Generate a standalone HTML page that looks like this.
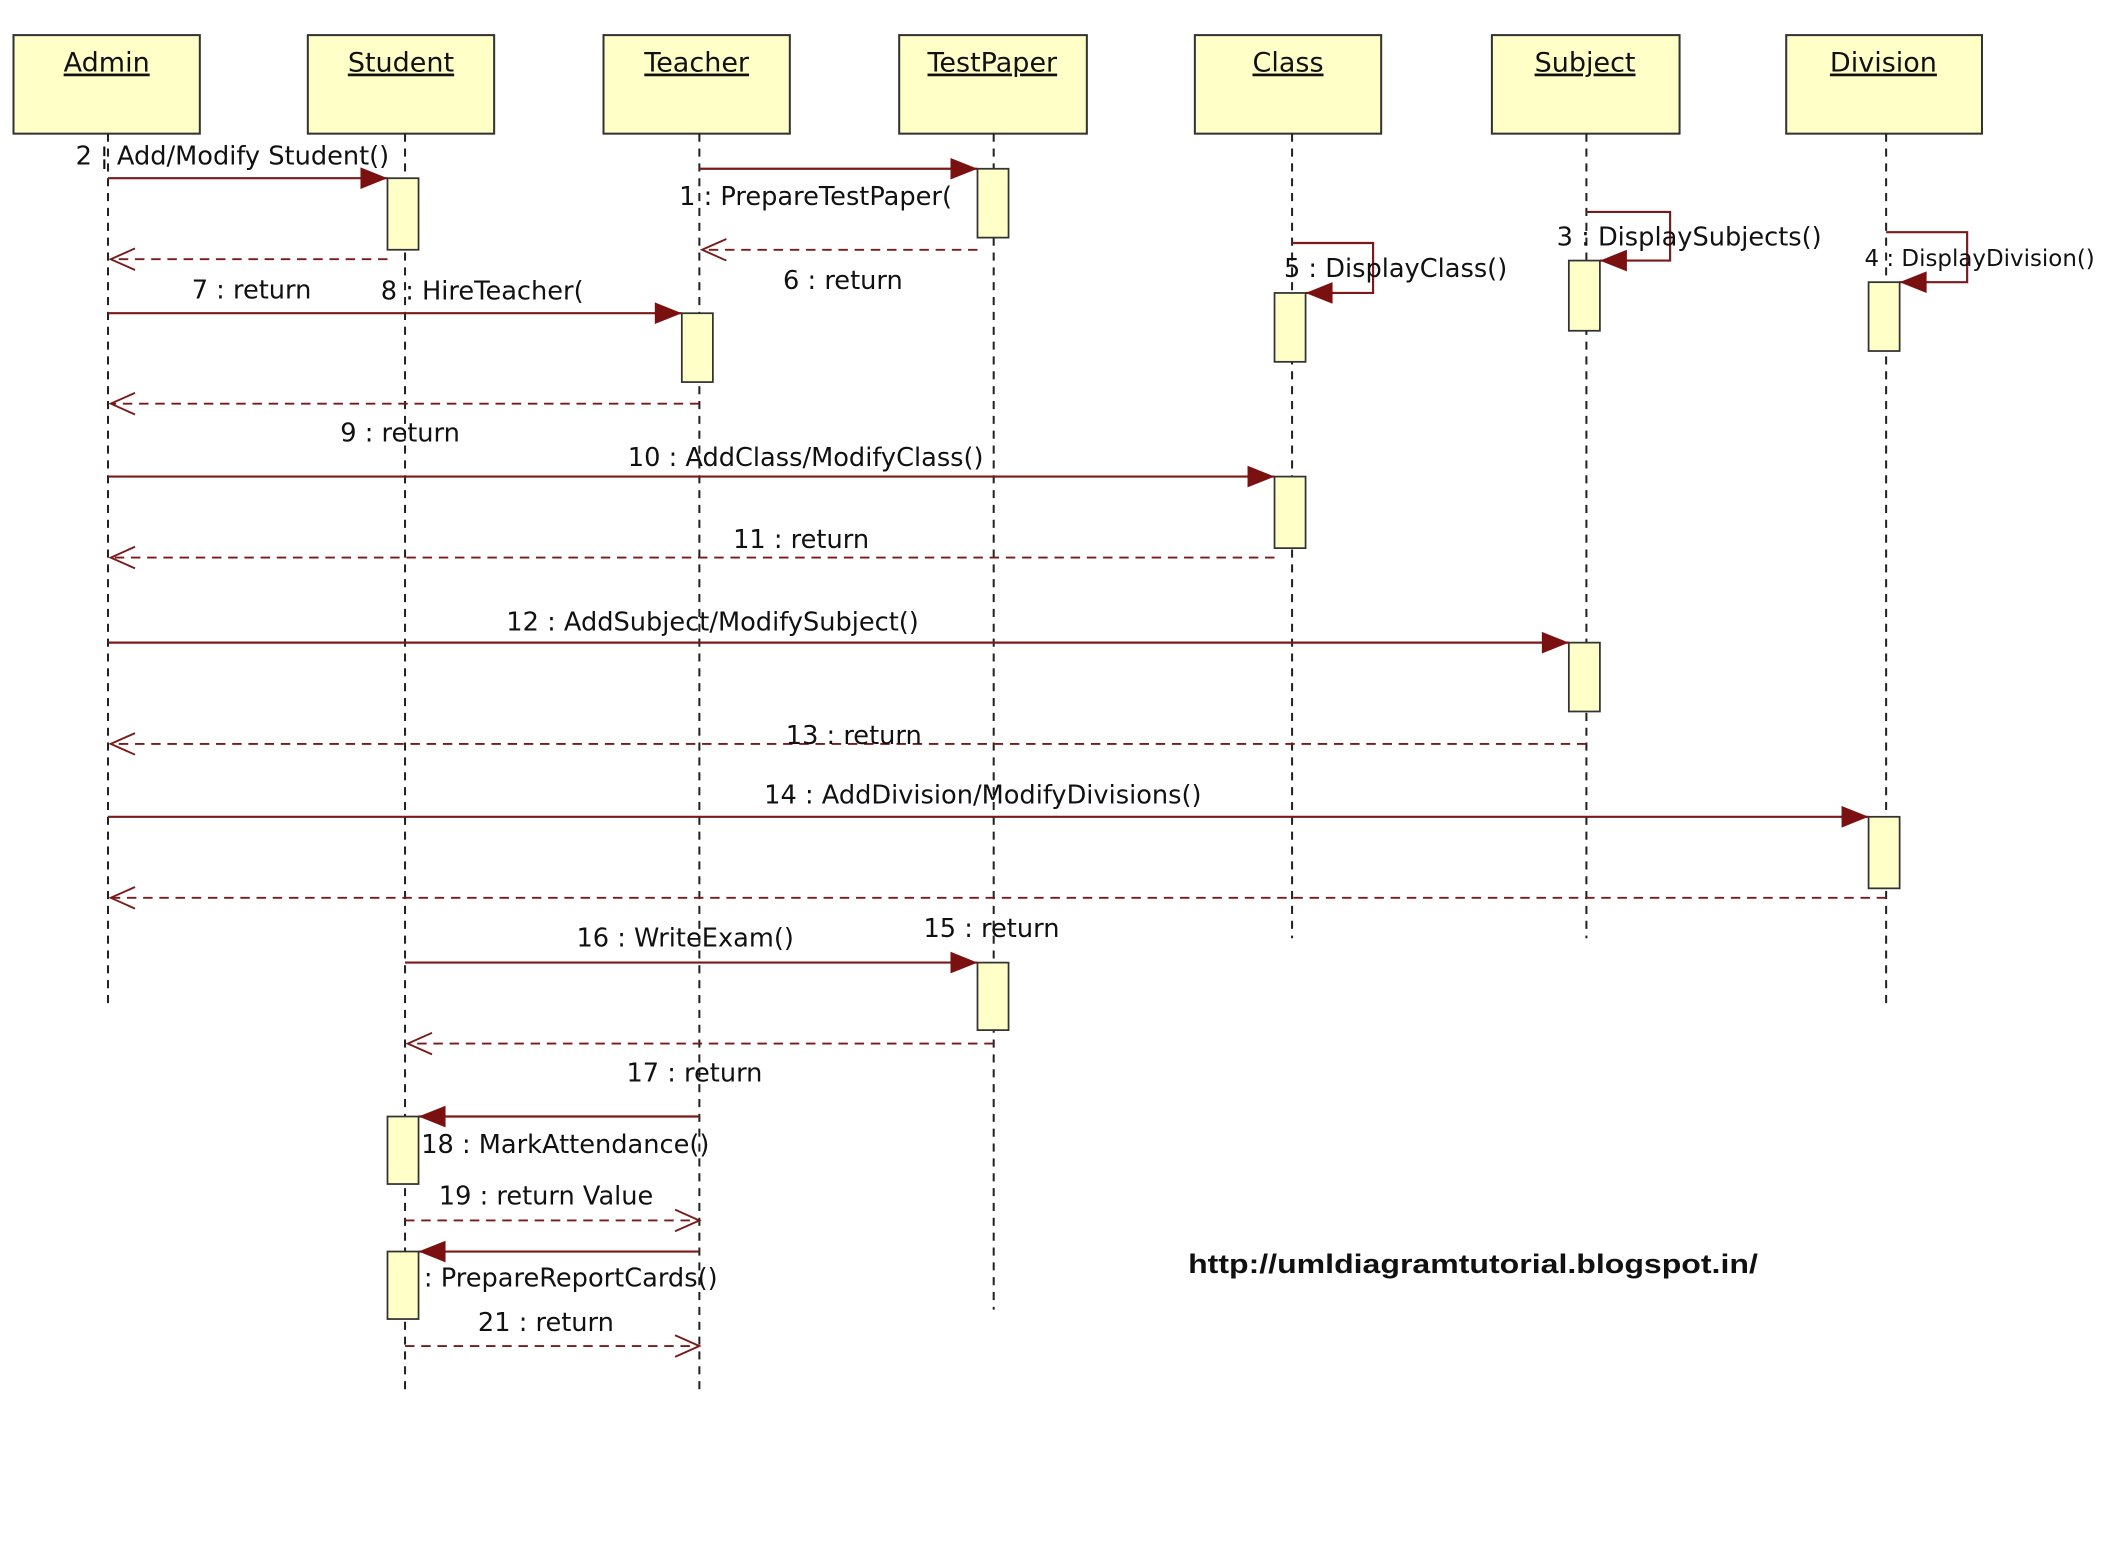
<!DOCTYPE html>
<html><head><meta charset="utf-8"><style>
html,body{margin:0;padding:0;background:#fff;}
svg{display:block;}
text{font-family:"DejaVu Sans","Liberation Sans",sans-serif;font-size:19px;fill:#111;}
.h{font-size:20px;text-decoration:underline;}
.box{fill:#ffffc8;stroke:#333;stroke-width:1.5;}
.act{fill:#ffffc8;stroke:#333;stroke-width:1.3;}
.ll{stroke:#222;stroke-width:1.5;stroke-dasharray:6,5;}
.m{stroke:#7a1a1a;stroke-width:1.6;}
.r{stroke:#7a1a1a;stroke-width:1.4;stroke-dasharray:7,5;fill:none;}
.ah{fill:#7a1010;}
.oa{fill:none;stroke:#7a1a1a;stroke-width:1.4;}
</style></head><body>
<svg width="2117" height="1548" viewBox="0 0 1568 1146.6" preserveAspectRatio="none">
<rect width="1568" height="1147" fill="#fff"/>
<g>
<rect class="box" x="10" y="26" width="138" height="73"/><text class="h" x="79" y="53" text-anchor="middle">Admin</text>
<rect class="box" x="228" y="26" width="138" height="73"/><text class="h" x="297" y="53" text-anchor="middle">Student</text>
<rect class="box" x="447" y="26" width="138" height="73"/><text class="h" x="516" y="53" text-anchor="middle">Teacher</text>
<rect class="box" x="666" y="26" width="139" height="73"/><text class="h" x="735" y="53" text-anchor="middle">TestPaper</text>
<rect class="box" x="885" y="26" width="138" height="73"/><text class="h" x="954" y="53" text-anchor="middle">Class</text>
<rect class="box" x="1105" y="26" width="139" height="73"/><text class="h" x="1174" y="53" text-anchor="middle">Subject</text>
<rect class="box" x="1323" y="26" width="145" height="73"/><text class="h" x="1395" y="53" text-anchor="middle">Division</text>
</g>
<line class="ll" x1="80" y1="99" x2="80" y2="748"/>
<line class="ll" x1="300" y1="99" x2="300" y2="1030"/>
<line class="ll" x1="518" y1="99" x2="518" y2="1030"/>
<line class="ll" x1="736" y1="99" x2="736" y2="970"/>
<line class="ll" x1="957" y1="99" x2="957" y2="695"/>
<line class="ll" x1="1175" y1="99" x2="1175" y2="695"/>
<line class="ll" x1="1397" y1="99" x2="1397" y2="748"/>
<rect class="act" x="287" y="132" width="23" height="53"/>
<rect class="act" x="724" y="125" width="23" height="51"/>
<rect class="act" x="505" y="232" width="23" height="51"/>
<rect class="act" x="944" y="217" width="23" height="51"/>
<rect class="act" x="1162" y="193" width="23" height="52"/>
<rect class="act" x="1384" y="209" width="23" height="51"/>
<rect class="act" x="944" y="353" width="23" height="53"/>
<rect class="act" x="1162" y="476" width="23" height="51"/>
<rect class="act" x="1384" y="605" width="23" height="53"/>
<rect class="act" x="724" y="713" width="23" height="50"/>
<rect class="act" x="287" y="827" width="23" height="50"/>
<rect class="act" x="287" y="927" width="23" height="50"/>
<line class="m" x1="80" y1="132" x2="287" y2="132"/><polygon class="ah" points="287,132 267,124 267,140"/>
<text x="56" y="122">2 ¦ Add/Modify Student()</text>
<line class="m" x1="518" y1="125" x2="724" y2="125"/><polygon class="ah" points="724,125 704,117 704,133"/>
<text x="503" y="152">1 : PrepareTestPaper(</text>
<line class="m" x1="80" y1="232" x2="505" y2="232"/><polygon class="ah" points="505,232 485,224 485,240"/>
<text x="142" y="221">7 : return</text><text x="282" y="222">8 : HireTeacher(</text>
<line class="m" x1="80" y1="353" x2="944" y2="353"/><polygon class="ah" points="944,353 924,345 924,361"/>
<text x="465" y="345">10 : AddClass/ModifyClass()</text>
<line class="m" x1="80" y1="476" x2="1162" y2="476"/><polygon class="ah" points="1162,476 1142,468 1142,484"/>
<text x="375" y="467">12 : AddSubject/ModifySubject()</text>
<line class="m" x1="80" y1="605" x2="1384" y2="605"/><polygon class="ah" points="1384,605 1364,597 1364,613"/>
<text x="566" y="595">14 : AddDivision/ModifyDivisions()</text>
<line class="m" x1="300" y1="713" x2="724" y2="713"/><polygon class="ah" points="724,713 704,705 704,721"/>
<text x="427" y="701">16 : WriteExam()</text>
<text x="684" y="694">15 : return</text>
<line class="m" x1="518" y1="827" x2="310" y2="827"/><polygon class="ah" points="310,827 330,819 330,835"/>
<text x="312" y="854">18 : MarkAttendance()</text>
<line class="m" x1="518" y1="927" x2="310" y2="927"/><polygon class="ah" points="310,927 330,919 330,935"/>
<text x="314" y="953">: PrepareReportCards()</text>
<polyline class="m" fill="none" points="957,180 1017,180 1017,217 967,217"/><polygon class="ah" points="967,217 987,209 987,225"/>
<text x="951" y="205">5 : DisplayClass()</text>
<polyline class="m" fill="none" points="1175,157 1237,157 1237,193 1185,193"/><polygon class="ah" points="1185,193 1205,185 1205,201"/>
<text x="1153" y="182">3 : DisplaySubjects()</text>
<polyline class="m" fill="none" points="1397,172 1457,172 1457,209 1407,209"/><polygon class="ah" points="1407,209 1427,201 1427,217"/>
<text x="1381" y="197" style="font-size:17px">4 : DisplayDivision()</text>
<line class="r" x1="287" y1="192" x2="82" y2="192"/><polyline class="oa" points="100,184 82,192 100,200"/>
<line class="r" x1="724" y1="185" x2="520" y2="185"/><polyline class="oa" points="538,177 520,185 538,193"/>
<text x="580" y="214">6 : return</text>
<line class="r" x1="518" y1="299" x2="82" y2="299"/><polyline class="oa" points="100,291 82,299 100,307"/>
<text x="252" y="327">9 : return</text>
<line class="r" x1="944" y1="413" x2="82" y2="413"/><polyline class="oa" points="100,405 82,413 100,421"/>
<text x="543" y="406">11 : return</text>
<line class="r" x1="1175" y1="551" x2="82" y2="551"/><polyline class="oa" points="100,543 82,551 100,559"/>
<text x="582" y="551">13 : return</text>
<line class="r" x1="1397" y1="665" x2="82" y2="665"/><polyline class="oa" points="100,657 82,665 100,673"/>
<line class="r" x1="736" y1="773" x2="302" y2="773"/><polyline class="oa" points="320,765 302,773 320,781"/>
<text x="464" y="801">17 : return</text>
<line class="r" x1="300" y1="904" x2="518" y2="904"/><polyline class="oa" points="500,896 518,904 500,912"/>
<text x="325" y="892">19 : return Value</text>
<line class="r" x1="300" y1="997" x2="518" y2="997"/><polyline class="oa" points="500,989 518,997 500,1005"/>
<text x="354" y="986">21 : return</text>
<text x="880" y="943" textLength="422" lengthAdjust="spacingAndGlyphs" style="font-family:'Liberation Sans',sans-serif;font-weight:bold;font-size:20px">http://umldiagramtutorial.blogspot.in/</text>
</svg>
</body></html>
